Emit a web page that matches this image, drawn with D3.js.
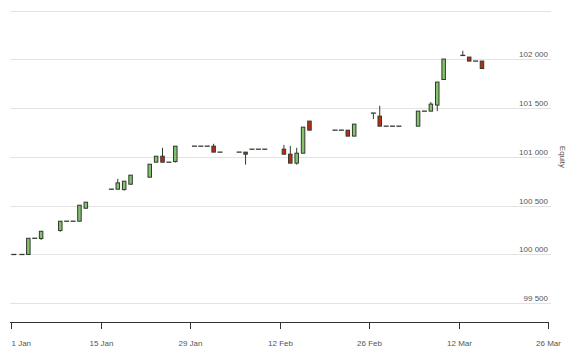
<!DOCTYPE html>
<html>
<head>
<meta charset="utf-8">
<script src="https://cdn.jsdelivr.net/npm/d3@7"></script>
<style>
  html, body { margin: 0; padding: 0; background: #fff; }
  svg { display: block; }
  text { font-family: "Liberation Sans", Arial, sans-serif; font-size: 8px; fill: #555; }
</style>
</head>
<body>
<svg id="chart" width="580" height="360"></svg>
<script>
// ---- data ----
const dates = [
  "2018-01-01 09:30","2018-01-02 16:00","2018-01-03 16:00","2018-01-04 16:00","2018-01-05 16:00",
  "2018-01-08 16:00","2018-01-09 16:00","2018-01-10 16:00","2018-01-11 16:00","2018-01-12 16:00",
  "2018-01-16 16:00","2018-01-17 16:00","2018-01-18 16:00","2018-01-19 16:00",
  "2018-01-22 16:00","2018-01-23 16:00","2018-01-24 16:00","2018-01-25 16:00","2018-01-26 16:00",
  "2018-01-29 16:00","2018-01-30 16:00","2018-01-31 16:00","2018-02-01 16:00","2018-02-02 16:00",
  "2018-02-05 16:00","2018-02-06 16:00","2018-02-07 16:00","2018-02-08 16:00","2018-02-09 16:00",
  "2018-02-12 16:00","2018-02-13 16:00","2018-02-14 16:00","2018-02-15 16:00","2018-02-16 16:00",
  "2018-02-20 16:00","2018-02-21 16:00","2018-02-22 16:00","2018-02-23 16:00",
  "2018-02-26 16:00","2018-02-27 16:00","2018-02-28 16:00","2018-03-01 16:00","2018-03-02 16:00",
  "2018-03-05 16:00","2018-03-06 16:00","2018-03-07 16:00","2018-03-08 16:00","2018-03-09 16:00",
  "2018-03-12 16:00","2018-03-13 16:00","2018-03-14 16:00","2018-03-15 16:00"
];
const open = [
  100000,100000,100000,100166,100164, 100245,100341,100341,100341,100474,
  100669,100669,100665,100720, 100792,100946,101007,100946,100952,
  101110,101110,101110,101110,101049, 101049,101049,101079,101079,101079,
  101079,101028,100936,101038,101367, 101274,101274,101274,101213,
  101449,101418,101315,101315,101315, 101315,101469,101469,101531,101793,
  102040,102023,101982,101982
];
const high = [
  100000,100000,100166,100166,100238, 100341,100341,100341,100505,100536,
  100669,100775,100751,100813, 100925,101007,101093,100946,101110,
  101110,101110,101110,101134,101049, 101049,101049,101079,101079,101079,
  101123,101113,101093,101305,101367, 101274,101274,101274,101336,
  101449,101524,101315,101315,101315, 101469,101469,101562,101767,102003,
  102088,102023,101982,101982
];
const low = [
  100000,100000,100000,100166,100149, 100234,100341,100341,100341,100474,
  100669,100669,100655,100720, 100792,100946,100946,100946,100942,
  101110,101110,101110,101049,101049, 101049,100921,101079,101079,101079,
  101028,100936,100921,101038,101274, 101274,101274,101213,101213,
  101387,101315,101315,101315,101315, 101315,101469,101469,101469,101793,
  102040,101982,101982,101906
];
const close = [
  100000,100000,100166,100166,100238, 100341,100341,100341,100505,100536,
  100669,100734,100751,100813, 100925,101007,100946,100946,101110,
  101110,101110,101110,101049,101049, 101049,101028,101079,101079,101079,
  101028,100936,101038,101305,101274, 101274,101274,101213,101336,
  101449,101315,101315,101315,101315, 101469,101469,101541,101767,102003,
  102040,101982,101982,101906
];
const xTickLabels = ["2018-01-01","2018-01-15","2018-01-29","2018-02-12","2018-02-26","2018-03-12","2018-03-26"];
const yTicks = [99500,100000,100500,101000,101500,102000,102500];
const yLabelTicks = [99500,100000,100500,101000,101500,102000];
const yLabel = "Equity";

// ---- build ----
const parseDT = d3.timeParse("%Y-%m-%d %H:%M");
const parseD = d3.timeParse("%Y-%m-%d");
const data = dates.map((d, i) => ({
  date: parseDT(d), open: open[i], high: high[i], low: low[i], close: close[i]
}));
const xTicks = xTickLabels.map(parseD);

const svg = d3.select("#chart");
const plotBottom = 322;

const x = d3.scaleTime()
  .domain([xTicks[0], xTicks[xTicks.length - 1]])
  .range([11.3, 548]);
const y = d3.scaleLinear()
  .domain([99308, 102608])
  .range([plotBottom, 0]);

const loc = d3.formatLocale({decimal: ".", thousands: " ", grouping: [3], currency: ["", ""]});
const fmtY = loc.format(",d");
const fmtX = d3.timeFormat("%-d %b");

// grid lines
svg.append("g").selectAll("line").data(yTicks).join("line")
  .attr("x1", 10).attr("x2", 551)
  .attr("y1", d => Math.round(y(d)) + 0.5).attr("y2", d => Math.round(y(d)) + 0.5)
  .attr("stroke", "#e3e3e3").attr("stroke-width", 1);

// y labels (right side, above grid lines)
svg.append("g").selectAll("text").data(yLabelTicks).join("text")
  .attr("x", 548).attr("y", d => Math.round(y(d)) - 2.5)
  .attr("text-anchor", "end")
  .text(d => fmtY(d));

// y axis title
svg.append("text")
  .attr("transform", `translate(559.5,${y(101000)}) rotate(90)`)
  .attr("text-anchor", "middle")
  .attr("font-size", "8px")
  .text(yLabel);

// x axis
const xg = svg.append("g").attr("transform", `translate(0,${plotBottom})`);
xg.append("line").attr("x1", 10).attr("x2", 548.5).attr("y1", 0.5).attr("y2", 0.5)
  .attr("stroke", "#333").attr("stroke-width", 1);
const tk = xg.selectAll("g.tick").data(xTicks).join("g")
  .attr("class", "tick")
  .attr("transform", d => `translate(${Math.round(x(d)) + 0.5},0)`);
tk.append("line").attr("y1", 0).attr("y2", 7).attr("stroke", "#333").attr("stroke-width", 1);
tk.append("text").attr("y", 23.5)
  .attr("text-anchor", (d, i) => i === 0 ? "start" : "middle")
  .text(d => fmtX(d));

// candles
const upFill = "#84c26c", downFill = "#c2290f", edge = "#313a31";
const bodyW = 3.5;
const g = svg.append("g");
const c = g.selectAll("g.candle").data(data).join("g").attr("class", "candle");
c.filter(d => d.high !== d.low).append("line")
  .attr("x1", d => x(d.date)).attr("x2", d => x(d.date))
  .attr("y1", d => y(d.high)).attr("y2", d => y(d.low))
  .attr("stroke", edge).attr("stroke-width", 1);
c.filter(d => d.open !== d.close).append("rect")
  .attr("x", d => x(d.date) - bodyW / 2)
  .attr("width", bodyW)
  .attr("y", d => y(Math.max(d.open, d.close)))
  .attr("height", d => Math.abs(y(d.open) - y(d.close)))
  .attr("fill", d => d.close > d.open ? upFill : downFill)
  .attr("stroke", edge).attr("stroke-width", 1);
c.filter(d => d.open === d.close).append("line")
  .attr("x1", d => x(d.date) - 2.5).attr("x2", d => x(d.date) + 2.5)
  .attr("y1", d => y(d.close)).attr("y2", d => y(d.close))
  .attr("stroke", edge).attr("stroke-width", 1.3);
</script>
</body>
</html>
